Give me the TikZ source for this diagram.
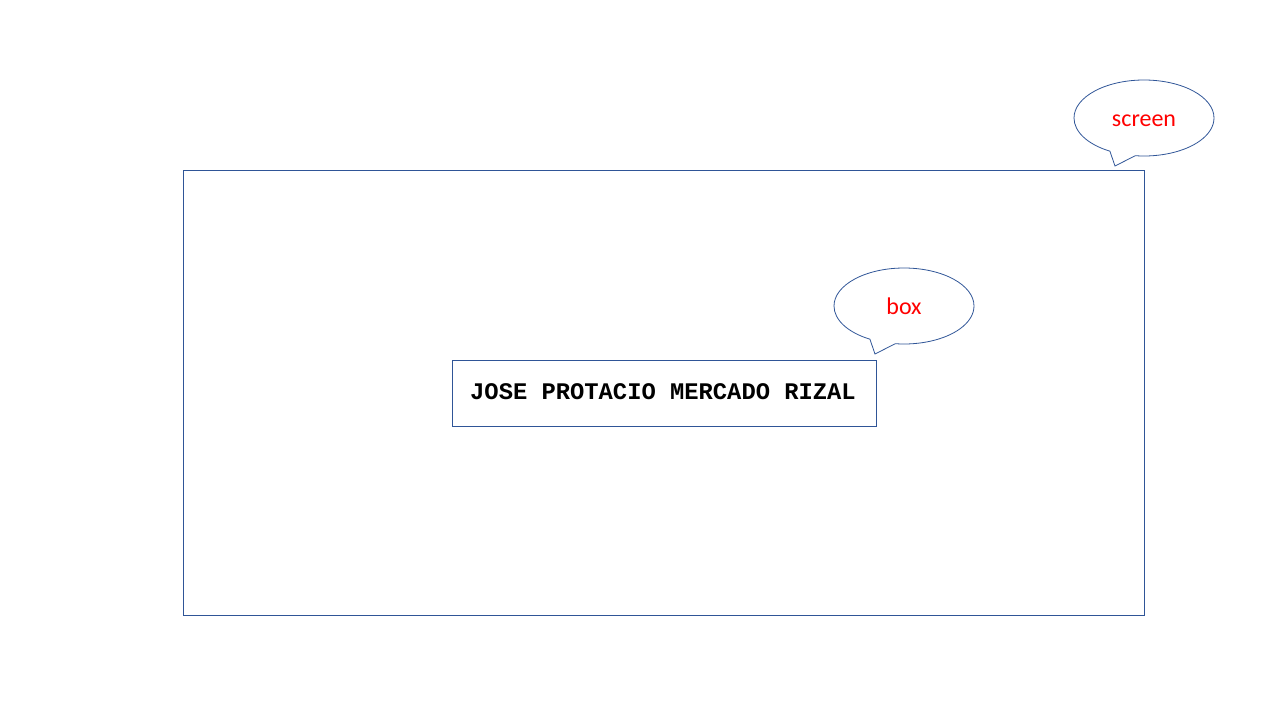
\documentclass[tikz,border=0pt]{standalone}
\usepackage{fontspec}
\setmainfont{Carlito}
\newfontfamily\monof{Liberation Mono}
\usetikzlibrary{shapes.callouts}
\definecolor{lineblue}{HTML}{2F5597}
\tikzset{
  frame/.style={draw=lineblue, line width=0.8pt},
  bubble/.style={ellipse callout, draw=lineblue, line width=0.8pt, minimum width=140pt, minimum height=76pt, inner sep=0pt, text=red, font=\fontsize{24}{28}\selectfont, callout pointer arc=22},
  bubbletext/.style={text=red, font=\fontsize{24}{28}\selectfont, inner sep=0pt},
}
\begin{document}
\begin{tikzpicture}[x=1pt,y=-1pt]
\useasboundingbox (0,0) rectangle (1280,720);
\node[frame, minimum width=961pt, minimum height=445pt, inner sep=0pt, anchor=north west] (screen) at (183,170) {};
\node[frame, minimum width=424pt, minimum height=66pt, inner sep=0pt, anchor=north west] (box) at (452,360) {};
\node[font=\monof\bfseries\fontsize{23.8}{28}\selectfont, anchor=base] (boxtext) at (663,399) {JOSE PROTACIO MERCADO RIZAL};
\coordinate (screentip) at (1115,166);
\coordinate (boxtip) at (875,354);
\node[bubble, callout absolute pointer={(screentip)}] (screencallout) at (1144,118) {};
\node[bubble, callout absolute pointer={(boxtip)}] (boxcallout) at (904,306) {};
\node[bubbletext, anchor=base] (screenlabel) at (1144,126) {screen};
\node[bubbletext, anchor=base] (boxlabel) at (904,314) {box};
\end{tikzpicture}
\end{document}
